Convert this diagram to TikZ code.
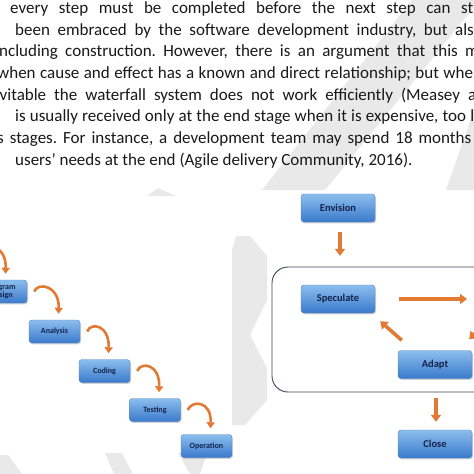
\documentclass[tikz,border=0pt]{standalone}
\usepackage{fontspec}
\setmainfont{Carlito}
\usetikzlibrary{arrows.meta,calc,shadows}
\definecolor{wm}{RGB}{233,233,233}
\definecolor{arr}{RGB}{226,122,52}
\definecolor{boxtop}{RGB}{140,190,238}
\definecolor{boxbot}{RGB}{58,122,204}
\definecolor{boxline}{RGB}{80,130,200}
\definecolor{boxtext}{RGB}{20,35,75}
\definecolor{framec}{RGB}{60,70,85}
\frenchspacing
\begin{document}
\begin{tikzpicture}[x=1pt,y=-1pt,
 txt/.style={anchor=base west,inner sep=0pt,font=\fontsize{17}{20}\selectfont,text=black!90},
 bluebox/.style={rounded corners=3pt,top color=boxtop,bottom color=boxbot,draw=boxline,line width=0.4pt,
   drop shadow={opacity=0.35,shadow xshift=1pt,shadow yshift=-1.4pt},text=boxtext,align=center,inner sep=0pt},
 wf/.style={bluebox,minimum width=51pt,minimum height=23pt,font=\bfseries\fontsize{8}{8.8}\selectfont},
 ag/.style={bluebox,minimum width=74pt,minimum height=28pt,font=\bfseries\fontsize{10.5}{11}\selectfont},
 curv/.style={draw=arr,line width=2.6pt,-{Triangle[width=8pt,length=6pt]}},
 blk/.style={draw=arr,line width=3.6pt,-{Triangle[width=10pt,length=7pt]}}
]
\useasboundingbox (0,0) rectangle (474,474);
\clip (0,0) rectangle (474,474);
\fill[white] (0,0) rectangle (474,474);
% watermark
\fill[wm] (412,0) -- (480,0) -- (325,190) -- (262,190) -- cycle;
\fill[wm] (474,110) -- (474,190) -- (446,190) -- cycle;
\fill[wm] (147,196) -- (158,188) -- (176,196) -- cycle;
\fill[wm] (236,236) -- (250,236) -- (267,256) -- (267,300) -- (250,335) -- (267,368) -- (267,400) -- (245,425) -- (232,425) -- (232,250) -- cycle;
\fill[wm] (0,455) -- (8,455) -- (22,474) -- (0,474) -- cycle;
\fill[wm] (105,453) -- (122,453) -- (133,474) -- (114,474) -- cycle;
\fill[wm] (178,453) -- (207,453) -- (200,474) -- (190,474) -- cycle;
% text
\node[txt] (l1) at (10,13.3) {\makebox[463pt][s]{every step must be completed before the next step can st}};
\node[txt] (l2) at (15,35) {\makebox[467.6pt][s]{been embraced by the software development industry, but also}};
\node[txt] (l3) at (-1,56.7) {\makebox[479.6pt][s]{ncluding construction. However, there is an argument that this m}};
\node[txt] (l4) at (-3,78.3) {\makebox[475.9pt][s]{when cause and effect has a known and direct relationship; but whe}};
\node[txt] (l5) at (-0.5,100) {\makebox[476.5pt][s]{vitable the waterfall system does not work efficiently (Measey a}};
\node[txt] (l6) at (15,121.7) {\makebox[459pt][s]{is usually received only at the end stage when it is expensive, too l}};
\node[txt] (l7) at (-3,143.3) {\makebox[474pt][s]{s stages. For instance, a development team may spend 18 months}};
\node[txt] (l8) at (15,165) {users’ needs at the end (Agile delivery Community, 2016).};
% waterfall
\node[wf] (pd) at (1.5,291.5) {Program\\Design};
\node[wf] (an) at (54.5,331.5) {Analysis};
\node[wf] (co) at (104.5,371) {Coding};
\node[wf] (te) at (155,410) {Testing};
\node[wf] (op) at (206.5,446) {Operation};
\coordinate (pre) at (-17,252.5);
\draw[curv] (pre) .. controls +(4,-10) and +(1,-28) .. ($(pd.north)+(4,-6)$);
\draw[curv] ($(pd.east)+(7,0)$) .. controls +(4,-10) and +(1,-28) .. ($(an.north)+(4,-6)$);
\draw[curv] ($(an.east)+(7,0)$) .. controls +(4,-10) and +(1,-28) .. ($(co.north)+(4,-6)$);
\draw[curv] ($(co.east)+(7,0)$) .. controls +(4,-10) and +(1,-28) .. ($(te.north)+(4,-6)$);
\draw[curv] ($(te.east)+(7,0)$) .. controls +(4,-10) and +(1,-28) .. ($(op.north)+(4,-6)$);
% adaptive
\draw[framec,line width=0.9pt,rounded corners=16pt] (272,267) rectangle (560,392);
\node[ag] (env) at (338,208) {Envision};
\node[ag] (spe) at (338,299) {Speculate};
\node[ag] (ada) at (435,364.5) {Adapt};
\node[ag] (clo) at (435,444) {Close};
\coordinate (exr) at (467,299);
\coordinate (exq) at (492,316);
\draw[blk] ($(env.south)+(2,10)$) -- ($(spe.north)+(2,-29)$);
\draw[blk] ($(spe.east)+(24,0)$) -- (exr);
\draw[blk] ($(ada.north west)+(4,-10)$) -- ($(spe.south east)+(5,8)$);
\draw[blk] (exq) -- ($(ada.north east)+(-3,-11)$);
\draw[blk] ($(ada.south)+(1,19)$) -- ($(clo.north)+(1,-8)$);
\end{tikzpicture}
\end{document}
